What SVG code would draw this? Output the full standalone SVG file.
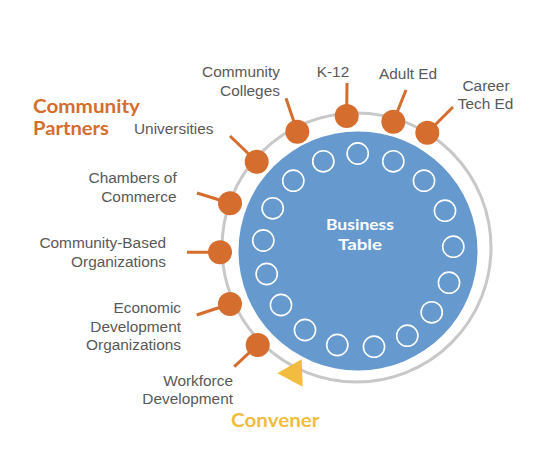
<svg xmlns="http://www.w3.org/2000/svg" width="553" height="451" viewBox="0 0 553 451">
<style>
.lbl{font-family:"Liberation Sans",Arial,sans-serif;font-size:15.4px;fill:#595959}
.r{text-anchor:end}
.c{text-anchor:middle}
.head{font-family:Lato,"Open Sans",sans-serif;font-weight:700;font-size:19px}
.seat{fill:none;stroke:#fff;stroke-width:1.6}
.dot{fill:#D56D2E}
.conn line{stroke:#D56D2E;stroke-width:3;stroke-linecap:butt}
</style>
<rect width="553" height="451" fill="#fff"/>
<circle cx="356.5" cy="247.5" r="134.5" fill="none" stroke="#C8C8C8" stroke-width="3"/>
<g id="business-table">
<circle cx="358" cy="251" r="119.5" fill="#6699CE"/>
<g class="seat">
<circle cx="357.7" cy="153.5" r="10.6"/>
<circle cx="393.3" cy="161.3" r="10.6"/>
<circle cx="424" cy="180.7" r="10.6"/>
<circle cx="445" cy="210.7" r="10.6"/>
<circle cx="453.3" cy="246.7" r="10.6"/>
<circle cx="449" cy="282.7" r="10.6"/>
<circle cx="431.7" cy="312.3" r="10.6"/>
<circle cx="407.3" cy="335.7" r="10.6"/>
<circle cx="374" cy="346.7" r="10.6"/>
<circle cx="337.3" cy="345" r="10.6"/>
<circle cx="305" cy="330" r="10.6"/>
<circle cx="281" cy="305" r="10.6"/>
<circle cx="266.7" cy="274" r="10.6"/>
<circle cx="263.3" cy="240.5" r="10.6"/>
<circle cx="272.7" cy="208.3" r="10.6"/>
<circle cx="293.3" cy="180.7" r="10.6"/>
<circle cx="323.3" cy="161.3" r="10.6"/>
</g>
<text class="head c" x="360" y="229.5" fill="#fff" style="font-size:15.5px" textLength="68" lengthAdjust="spacingAndGlyphs">Business</text>
<text class="head c" x="360" y="250" fill="#fff" style="font-size:15.5px" textLength="44" lengthAdjust="spacingAndGlyphs">Table</text>
</g>
<g id="connectors" class="conn">
<line x1="286" y1="98.3" x2="297.3" y2="131.7"/>
<line x1="347" y1="83" x2="346.7" y2="116"/>
<line x1="406" y1="90" x2="393.3" y2="121.7"/>
<line x1="453" y1="107" x2="427.3" y2="132.7"/>
<line x1="230" y1="136" x2="256.7" y2="161.7"/>
<line x1="197" y1="193" x2="230" y2="203.3"/>
<line x1="187" y1="252.3" x2="220" y2="252.3"/>
<line x1="196.7" y1="315" x2="230" y2="304"/>
<line x1="234.3" y1="366.7" x2="257.7" y2="345"/>
</g>
<g id="community-colleges"><circle class="dot" cx="297.3" cy="131.7" r="12"/><text class="lbl c" x="241" y="76.7">Community</text><text class="lbl c" x="250" y="95.5">Colleges</text></g>
<g id="k-12"><circle class="dot" cx="346.7" cy="116" r="12"/><text class="lbl" x="316.7" y="76.7">K-12</text></g>
<g id="adult-ed"><circle class="dot" cx="393.3" cy="121.7" r="12"/><text class="lbl" x="379" y="79.3">Adult Ed</text></g>
<g id="career-tech-ed"><circle class="dot" cx="427.3" cy="132.7" r="12"/><text class="lbl c" x="486" y="90.7">Career</text><text class="lbl c" x="485.5" y="109.3">Tech Ed</text></g>
<g id="universities"><circle class="dot" cx="256.7" cy="161.7" r="12"/><text class="lbl" x="134" y="134.3">Universities</text></g>
<g id="chambers-of-commerce"><circle class="dot" cx="230" cy="203.3" r="12"/><text class="lbl r" x="176.7" y="183.3">Chambers of</text><text class="lbl r" x="176.5" y="201.7">Commerce</text></g>
<g id="community-based-organizations"><circle class="dot" cx="220" cy="252.3" r="12"/><text class="lbl r" x="166" y="248.3">Community-Based</text><text class="lbl r" x="166" y="266.7">Organizations</text></g>
<g id="economic-development-organizations"><circle class="dot" cx="230" cy="304" r="12"/><text class="lbl r" x="181" y="313.3">Economic</text><text class="lbl r" x="181" y="332">Development</text><text class="lbl r" x="181" y="350.3">Organizations</text></g>
<g id="workforce-development"><circle class="dot" cx="257.7" cy="345" r="12"/><text class="lbl r" x="233" y="385.7">Workforce</text><text class="lbl r" x="233" y="404.3">Development</text></g>
<g id="community-partners"><text class="head" x="33" y="113" fill="#D56D2E" textLength="107" lengthAdjust="spacingAndGlyphs">Community</text><text class="head" x="33" y="134.5" fill="#D56D2E" textLength="76" lengthAdjust="spacingAndGlyphs">Partners</text></g>
<g id="convener"><polygon points="277.3,373.3 301.7,359.3 302.7,386.7" fill="#F2BD3E"/><text class="head" x="231" y="427" fill="#F2BD3E" style="font-size:18.5px" textLength="88.5" lengthAdjust="spacingAndGlyphs">Convener</text></g>
</svg>
